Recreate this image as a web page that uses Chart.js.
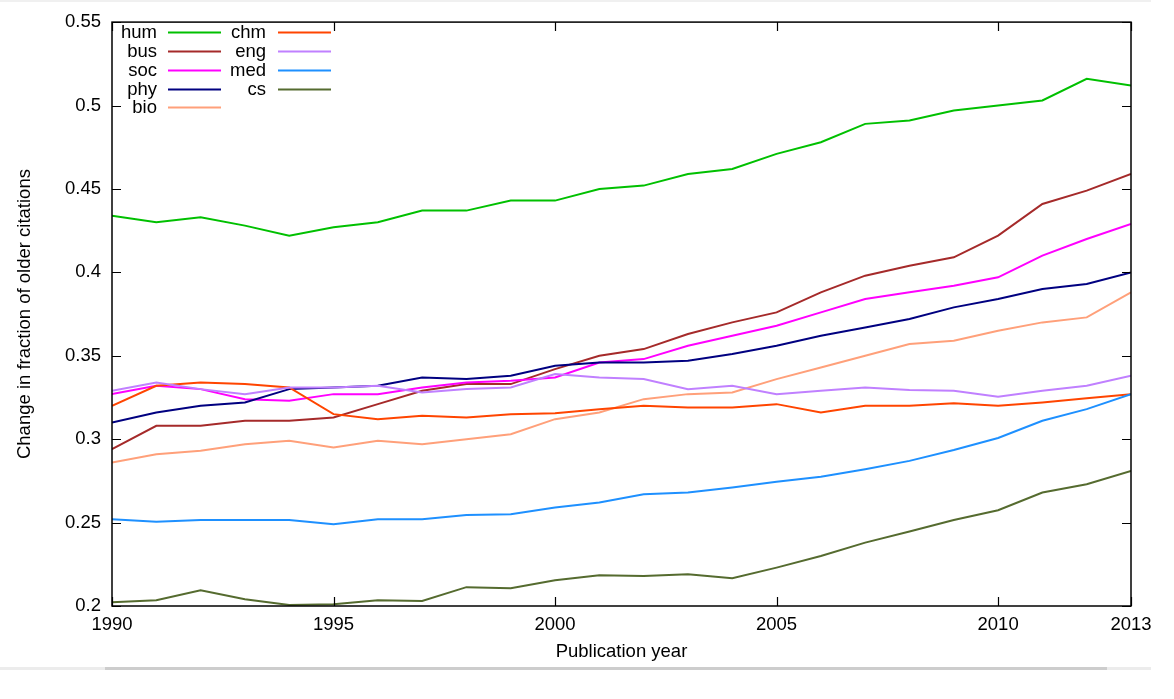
<!DOCTYPE html>
<html>
<head>
<meta charset="utf-8">
<title>Change in fraction of older citations</title>
<script src="https://cdn.jsdelivr.net/npm/chart.js@4.4.1/dist/chart.umd.min.js"></script>
<style>
html,body{margin:0;padding:0;background:#fff;}
#wrap{position:relative;width:1151px;height:699px;overflow:hidden;}
#topbar{position:absolute;left:0;top:0;width:1151px;height:2px;background:#f0f0f0;}
#scroll{position:absolute;left:0;top:667px;width:1151px;height:3px;background:#ececec;}
#thumb{position:absolute;left:105px;top:667px;width:1002px;height:3px;background:#cdcdcd;}
canvas{position:absolute;left:0;top:0;}
</style>
</head>
<body>
<div id="wrap">
  <canvas id="c" width="1174" height="699"></canvas>
  <div id="topbar"></div>
  <div id="scroll"></div>
  <div id="thumb"></div>
</div>
<script>
// ── data ──
var YEARS=[1990,1991,1992,1993,1994,1995,1996,1997,1998,1999,2000,2001,2002,2003,2004,2005,2006,2007,2008,2009,2010,2011,2012,2013];
var X_TICKS=[1990,1995,2000,2005,2010,2013];
var Y_TICKS=[0.2,0.25,0.3,0.35,0.4,0.45,0.5,0.55];

var HUM=[0.434,0.430,0.433,0.428,0.422,0.427,0.430,0.437,0.437,0.443,0.443,0.450,0.452,0.459,0.462,0.471,0.478,0.489,0.491,0.497,0.500,0.503,0.516,0.512];
var BUS=[0.294,0.308,0.308,0.311,0.311,0.313,0.321,0.329,0.333,0.333,0.342,0.350,0.354,0.363,0.370,0.376,0.388,0.398,0.404,0.409,0.422,0.441,0.449,0.459];
var SOC=[0.327,0.332,0.330,0.324,0.323,0.327,0.327,0.331,0.334,0.335,0.337,0.346,0.348,0.356,0.362,0.368,0.376,0.384,0.388,0.392,0.397,0.410,0.420,0.429];
var PHY=[0.310,0.316,0.320,0.322,0.330,0.331,0.332,0.337,0.336,0.338,0.344,0.346,0.346,0.347,0.351,0.356,0.362,0.367,0.372,0.379,0.384,0.390,0.393,0.400];
var BIO=[0.286,0.291,0.293,0.297,0.299,0.295,0.299,0.297,0.300,0.303,0.312,0.316,0.324,0.327,0.328,0.336,0.343,0.350,0.357,0.359,0.365,0.370,0.373,0.388];
var CHM=[0.320,0.332,0.334,0.333,0.331,0.315,0.312,0.314,0.313,0.315,0.3155,0.318,0.320,0.319,0.319,0.321,0.316,0.320,0.320,0.3215,0.320,0.322,0.3245,0.327];
var ENG=[0.329,0.334,0.330,0.327,0.331,0.331,0.332,0.328,0.330,0.331,0.339,0.337,0.336,0.330,0.332,0.327,0.329,0.331,0.3295,0.329,0.3255,0.329,0.332,0.338];
var MED=[0.252,0.2505,0.2515,0.2515,0.2515,0.249,0.252,0.252,0.2545,0.255,0.259,0.262,0.267,0.268,0.271,0.2745,0.2775,0.282,0.287,0.2935,0.3007,0.311,0.318,0.327];
var CS=[0.2023,0.2035,0.2095,0.204,0.2006,0.201,0.2035,0.203,0.2113,0.2107,0.2154,0.2184,0.218,0.219,0.2166,0.223,0.230,0.238,0.2446,0.2515,0.2574,0.268,0.273,0.281];

var NAMES=["hum","bus","soc","phy","bio","chm","eng","med","cs"];
var SERIES=[HUM,BUS,SOC,PHY,BIO,CHM,ENG,MED,CS];
var COLORS=["#00c000","#a52a2a","#ff00ff","#000080","#ffa07a","#ff4500","#c080ff","#1e90ff","#556b2f"];

var FONT="'Liberation Sans', Arial, sans-serif";

// gnuplot-like frame with inward ticks on all four sides
var framePlugin={
  id:"frame",
  afterDatasetsDraw:function(ch){
    var a=ch.chartArea,x=ch.scales.x,y=ch.scales.y,g=ch.ctx,L=9;
    g.save();
    g.strokeStyle="#000";g.lineWidth=1.5;
    g.strokeRect(a.left,a.top,a.right-a.left,a.bottom-a.top);
    g.lineWidth=1.2;
    g.beginPath();
    y.ticks.forEach(function(t){
      var p=Math.round(y.getPixelForValue(t.value))+0.5;
      g.moveTo(a.left,p);g.lineTo(a.left+L,p);
      g.moveTo(a.right,p);g.lineTo(a.right-L,p);
    });
    x.ticks.forEach(function(t){
      var p=Math.round(x.getPixelForValue(t.value))+0.5;
      g.moveTo(p,a.bottom);g.lineTo(p,a.bottom-L);
      g.moveTo(p,a.top);g.lineTo(p,a.top+L);
    });
    g.stroke();
    g.restore();
  }
};

// two-column key in the top left corner, label then line sample
var keyPlugin={
  id:"key",
  afterDraw:function(ch){
    var g=ch.ctx,ds=ch.data.datasets;
    var cols=[{tx:157,x0:168,x1:221},{tx:266,x0:278,x1:331}];
    var rows=[32,51,70,89,107];
    g.save();
    g.font="18.5px "+FONT;
    g.textAlign="right";g.textBaseline="middle";
    ds.forEach(function(d,i){
      var c=cols[i<5?0:1],r=rows[i<5?i:i-5];
      g.fillStyle="#000";
      g.fillText(d.label,c.tx,r+1);
      g.strokeStyle=d.borderColor;g.lineWidth=2;
      g.beginPath();g.moveTo(c.x0,r+0.5);g.lineTo(c.x1,r+0.5);g.stroke();
    });
    g.restore();
  }
};

var datasets=NAMES.map(function(n,i){
  return{
    label:n,
    data:YEARS.map(function(yr,j){return{x:yr,y:SERIES[i][j]};}),
    borderColor:COLORS[i],
    backgroundColor:COLORS[i],
    borderWidth:2,
    pointRadius:0,
    tension:0,
    fill:false,
    order:NAMES.length-i
  };
});

new Chart(document.getElementById("c"),{
  type:"line",
  data:{datasets:datasets},
  options:{
    responsive:false,
    animation:false,
    devicePixelRatio:1,
    layout:{padding:{top:15,right:43,bottom:0,left:0}},
    plugins:{legend:{display:false},tooltip:{enabled:false}},
    scales:{
      x:{
        type:"linear",
        min:1990,max:2013,
        afterBuildTicks:function(s){s.ticks=X_TICKS.map(function(v){return{value:v};});},
        afterFit:function(s){s.height=93;},
        grid:{display:false,drawTicks:false,tickLength:0},
        border:{display:false},
        ticks:{autoSkip:false,maxRotation:0,padding:8,color:"#000",font:{family:FONT,size:18.5},
          callback:function(v){return String(v);}},
        title:{display:true,text:"Publication year",color:"#000",font:{family:FONT,size:18.5},padding:{top:0,bottom:36}}
      },
      y:{
        type:"linear",
        min:0.2,max:0.55,
        afterBuildTicks:function(s){s.ticks=Y_TICKS.map(function(v){return{value:v};});},
        afterFit:function(s){s.width=112;},
        grid:{display:false,drawTicks:false,tickLength:0},
        border:{display:false},
        ticks:{padding:11,color:"#000",font:{family:FONT,size:18.5},
          callback:function(v){return String(+v.toFixed(2));}},
        title:{display:true,text:"Change in fraction of older citations",color:"#000",font:{family:FONT,size:18.5},padding:{top:14,bottom:0}}
      }
    }
  },
  plugins:[framePlugin,keyPlugin]
});
</script>
</body>
</html>
